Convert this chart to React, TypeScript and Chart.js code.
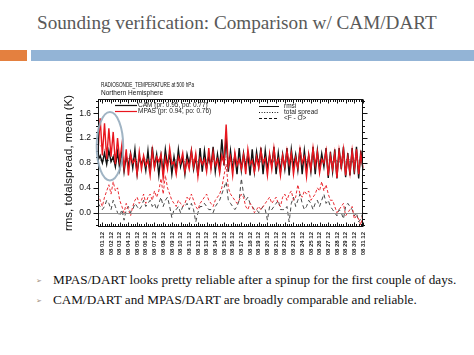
import React, { useEffect, useRef } from 'react';
import { Chart, registerables } from 'chart.js';

Chart.register(...registerables);

// ---------- data ----------
const monthLabel = '08';
const dayLabels = ['01','02','03','04','05','06','07','08','09','10','11','12','13','14','15','16','17','18','19','20','21','22','23','24','25','26','27','28','29','30','31'];
const hourLabels = ['00', '06', '12', '18'];
const labelHour = '12';

const timeLabels: string[] = [];
dayLabels.forEach((d, di) => {
  hourLabels.forEach((h) => {
    if (di === dayLabels.length - 1 && h === '18') return;
    timeLabels.push(`${monthLabel} ${d} ${h}`);
  });
});

const mpasRms = [
  0.98, 1.52, 0.92, 1.44, 0.86, 1.36, 0.9, 1.3, 0.78, 1.2, 0.84, 1.1, 0.72, 1.02, 0.6, 0.94,
  0.8, 0.86, 0.62, 0.98, 0.7, 0.92, 0.76, 0.84, 0.6, 1.0, 0.72, 0.9, 0.82, 0.94, 0.56, 0.88,
  0.7, 1.04, 0.78, 0.82, 0.62, 0.9, 0.8, 0.96, 0.66, 0.84, 0.7, 1.0, 0.74, 0.95, 0.58, 0.88,
  0.78, 0.86, 0.66, 1.04, 0.7, 0.98, 0.76, 0.86, 0.64, 0.92, 0.8, 1.42, 0.74, 0.9, 0.6, 0.97,
  0.76, 0.86, 0.7, 0.93, 0.62, 1.02, 0.78, 0.84, 0.66, 0.9, 0.72, 1.0, 0.8, 0.88, 0.6, 0.95,
  0.7, 1.04, 0.76, 0.86, 0.6, 0.92, 0.74, 1.0, 0.78, 0.96, 0.62, 0.88, 0.72, 1.02, 0.8, 0.9,
  0.58, 0.94, 0.7, 1.04, 0.76, 0.98, 0.64, 0.86, 0.8, 1.0, 0.6, 0.92, 0.7, 0.96, 0.56, 1.0,
  0.74, 1.02, 0.6, 0.9, 0.64, 1.0, 0.7, 1.02, 0.62, 0.94, 0.72,
];

const camRms = [
  0.84, 0.92, 0.8, 0.96, 0.78, 1.0, 0.82, 0.9, 0.74, 0.98, 0.7, 1.0, 0.66, 0.92, 0.74, 0.96,
  0.72, 1.02, 0.62, 0.9, 0.78, 0.88, 0.68, 1.0, 0.64, 1.06, 0.74, 0.94, 0.6, 0.92, 0.66, 1.02,
  0.76, 0.95, 0.62, 0.9, 0.68, 1.02, 0.74, 0.88, 0.62, 0.94, 0.78, 1.0, 0.7, 0.9, 0.6, 1.04,
  0.66, 1.0, 0.72, 0.9, 0.74, 1.06, 0.66, 0.94, 0.7, 1.18, 0.76, 1.2, 0.66, 1.0, 0.7, 0.92,
  0.62, 1.04, 0.68, 0.96, 0.72, 0.94, 0.6, 1.02, 0.66, 0.98, 0.74, 1.05, 0.62, 1.0, 0.7, 0.92,
  0.76, 1.06, 0.62, 0.96, 0.66, 0.94, 0.7, 1.04, 0.6, 1.02, 0.74, 0.94, 0.68, 1.05, 0.62, 1.0,
  0.7, 0.92, 0.66, 1.06, 0.62, 1.0, 0.7, 0.95, 0.74, 1.04, 0.56, 0.98, 0.66, 1.02, 0.55, 1.04,
  0.7, 1.06, 0.57, 0.96, 0.6, 1.04, 0.62, 1.06, 0.55, 1.0, 0.68,
];

const mpasSpread = [
  1.1, 1.08, 1.05, 1.02, 1.0, 0.98, 0.96, 0.94, 0.93, 0.92, 0.9, 0.89, 0.88, 0.87, 0.87, 0.86,
  0.86, 0.87, 0.85, 0.86, 0.85, 0.86, 0.86, 0.85, 0.86, 0.85, 0.84, 0.86, 0.85, 0.86, 0.85, 0.84,
  0.84, 0.85, 0.86, 0.85, 0.85, 0.84, 0.85, 0.86, 0.86, 0.85, 0.84, 0.85, 0.85, 0.86, 0.85, 0.84,
  0.84, 0.85, 0.85, 0.86, 0.85, 0.86, 0.86, 0.87, 0.86, 0.87, 0.88, 0.9, 0.88, 0.87, 0.86, 0.85,
  0.85, 0.84, 0.85, 0.86, 0.86, 0.85, 0.84, 0.85, 0.84, 0.85, 0.86, 0.85, 0.85, 0.86, 0.85, 0.84,
  0.85, 0.84, 0.85, 0.86, 0.86, 0.85, 0.84, 0.85, 0.85, 0.86, 0.86, 0.85, 0.84, 0.85, 0.86, 0.85,
  0.85, 0.84, 0.85, 0.86, 0.86, 0.85, 0.85, 0.84, 0.85, 0.86, 0.85, 0.84, 0.84, 0.85, 0.84, 0.85,
  0.85, 0.84, 0.85, 0.86, 0.85, 0.84, 0.84, 0.85, 0.84, 0.85, 0.84,
];

const camSpread = [
  0.84, 0.84, 0.83, 0.84, 0.83, 0.84, 0.83, 0.83, 0.83, 0.82, 0.83, 0.83, 0.82, 0.83, 0.83, 0.82,
  0.82, 0.83, 0.82, 0.82, 0.83, 0.82, 0.82, 0.83, 0.82, 0.82, 0.83, 0.82, 0.82, 0.83, 0.82, 0.82,
  0.81, 0.82, 0.82, 0.83, 0.82, 0.82, 0.81, 0.82, 0.82, 0.83, 0.82, 0.82, 0.83, 0.82, 0.82, 0.81,
  0.82, 0.82, 0.83, 0.82, 0.82, 0.83, 0.83, 0.84, 0.84, 0.85, 0.86, 0.85, 0.84, 0.83, 0.82, 0.82,
  0.82, 0.83, 0.82, 0.82, 0.82, 0.82, 0.81, 0.82, 0.82, 0.83, 0.82, 0.82, 0.81, 0.82, 0.82, 0.82,
  0.82, 0.82, 0.83, 0.82, 0.82, 0.81, 0.82, 0.82, 0.83, 0.82, 0.82, 0.82, 0.82, 0.83, 0.82, 0.82,
  0.82, 0.82, 0.81, 0.82, 0.82, 0.82, 0.83, 0.82, 0.82, 0.82, 0.82, 0.81, 0.82, 0.82, 0.83, 0.82,
  0.81, 0.82, 0.82, 0.82, 0.82, 0.82, 0.81, 0.82, 0.82, 0.81, 0.82,
];

const mpasBias = [
  0.3, 0.2, 0.1, 0.25, 0.35, 0.45, 0.3, 0.5, 0.35, 0.4, 0.2, 0.1, 0.0, 0.15, 0.05, -0.05,
  0.1, 0.2, 0.25, 0.15, 0.2, 0.3, 0.15, 0.25, 0.3, 0.2, 0.35, 0.25, 0.35, 0.55, 0.3, 0.6,
  0.4, 0.3, 0.2, 0.15, 0.1, 0.2, 0.15, 0.1, 0.15, 0.25, 0.2, 0.3, 0.2, 0.1, 0.05, 0.15,
  0.2, 0.25, 0.3, 0.2, 0.15, 0.1, 0.2, 0.25, 0.3, 0.4, 0.6, 0.78, 0.4, 0.3, 0.25, 0.2,
  0.15, 0.2, 0.3, 0.25, 0.1, 0.05, 0.15, 0.1, 0.0, 0.05, 0.1, 0.05, 0.1, 0.15, 0.2, 0.25,
  0.15, 0.2, 0.25, 0.15, 0.1, 0.25, 0.3, 0.2, 0.3, 0.35, 0.2, 0.25, 0.45, 0.3, 0.25, 0.35,
  0.3, 0.35, 0.2, 0.25, 0.3, 0.4, 0.35, 0.5, 0.35, 0.45, 0.3, 0.2, 0.2, 0.1, 0.0, 0.05,
  0.1, 0.15, -0.05, 0.0, 0.05, 0.1, -0.1, -0.05, -0.1, -0.2, 0.0,
];

const camBias = [
  0.15, 0.1, 0.05, 0.1, 0.2, 0.15, 0.05, 0.2, 0.1, 0.0, -0.05, 0.05, -0.12, 0.05, 0.1, 0.0,
  0.05, 0.15, 0.1, 0.05, 0.1, 0.2, 0.1, 0.15, 0.2, 0.1, 0.15, 0.05, 0.15, 0.25, 0.1, 0.2,
  0.25, 0.1, -0.08, 0.05, 0.05, 0.1, 0.0, 0.1, 0.1, 0.15, 0.05, 0.15, 0.05, -0.15, 0.0, 0.1,
  0.1, 0.15, 0.1, 0.05, 0.05, 0.0, 0.1, 0.15, 0.2, 0.3, 0.4, 0.5, 0.2, 0.15, 0.1, 0.05,
  0.1, 0.2, 0.55, 0.3, 0.2, 0.25, 0.15, 0.1, 0.05, 0.05, 0.0, 0.05, 0.1, 0.05, -0.12, 0.1,
  0.05, 0.1, 0.15, 0.2, 0.05, 0.05, 0.05, 0.1, -0.15, 0.15, 0.25, 0.1, 0.2, 0.3, 0.15, 0.05,
  0.1, 0.2, 0.15, 0.05, 0.15, 0.2, 0.1, 0.2, 0.3, 0.15, 0.2, 0.1, 0.05, 0.0, -0.05, 0.05,
  0.0, -0.1, 0.1, 0.15, 0.1, 0.05, -0.05, 0.0, -0.15, -0.1, 0.0,
];

const yTickValues = [0.0, 0.4, 0.8, 1.2, 1.6];
const yMin = -0.23;
const yMax = 1.83;

const chartTitle = 'RADIOSONDE_TEMPERATURE at 500 hPa';
const chartSubtitle = 'Northern Hemisphere';
const yAxisTitle = 'rms, totalspread, mean (K)';
const modelLegend = [
  { label: 'CAM (pr: 0.95, po: 0.77)', color: '#111111' },
  { label: 'MPAS (pr: 0.94, po: 0.76)', color: '#e8161e' },
];
const styleLegend = [
  { label: 'rmsi', dash: [] as number[] },
  { label: 'total spread', dash: [1, 1.6] },
  { label: '<F - O>', dash: [3, 2] },
];
// highlighted spin-up region (category index range, value range)
const spinupIdx = [-0.6, 11.6];
const spinupVal = [0.52, 1.62];

const slideTitle = 'Sounding verification: Comparison w/ CAM/DART';
const bullets = [
  'MPAS/DART looks pretty reliable after a spinup for the first couple of days.',
  'CAM/DART and MPAS/DART are broadly comparable and reliable.',
];

const RED = '#e8161e';
const BLACK = '#111111';

const decorPlugin = {
  id: 'decor',
  afterDraw(chart: any) {
    const { ctx, chartArea: a, scales } = chart;
    const xs = scales.x;
    const ys = scales.y;
    ctx.save();

    // zero line
    const y0 = Math.round(ys.getPixelForValue(0)) + 0.5;
    ctx.strokeStyle = '#8c8c8c';
    ctx.lineWidth = 1;
    ctx.beginPath();
    ctx.moveTo(a.left, y0);
    ctx.lineTo(a.right + 4, y0);
    ctx.stroke();

    // frame
    ctx.strokeStyle = '#111';
    ctx.lineWidth = 1;
    const L = Math.round(a.left) + 0.5;
    const R = Math.round(a.right) - 0.5;
    const T = Math.round(a.top) + 0.5;
    const B = Math.round(a.bottom) - 0.5;
    ctx.strokeRect(L, T, R - L, B - T);

    // x ticks (inward, top and bottom)
    ctx.beginPath();
    for (let i = 0; i < timeLabels.length; i++) {
      const px = Math.round(xs.getPixelForValue(i)) + 0.5;
      const len = timeLabels[i].endsWith(' ' + labelHour) ? 4 : 2.5;
      ctx.moveTo(px, B);
      ctx.lineTo(px, B - len);
      ctx.moveTo(px, T);
      ctx.lineTo(px, T + len);
    }
    // y ticks (outward, left and right)
    for (let k = -2; k <= 18; k++) {
      const v = k / 10;
      const py = Math.round(ys.getPixelForValue(v)) + 0.5;
      if (py < a.top - 0.5 || py > a.bottom + 0.5) continue;
      const len = k % 4 === 0 ? 5 : 2.5;
      ctx.moveTo(L - len, py);
      ctx.lineTo(L, py);
      ctx.moveTo(R, py);
      ctx.lineTo(R + len, py);
    }
    ctx.stroke();

    // titles
    ctx.fillStyle = '#111';
    ctx.textBaseline = 'middle';
    ctx.textAlign = 'left';
    ctx.save();
    ctx.translate(a.left + 3, a.top - 14);
    ctx.scale(0.72, 1);
    ctx.font = '6.5px "Liberation Sans", Arial, sans-serif';
    ctx.fillText(chartTitle, 0, 0);
    ctx.restore();
    ctx.font = '6.5px "Liberation Sans", Arial, sans-serif';
    ctx.fillText(chartSubtitle, a.left + 3, a.top - 6);

    // model legend (top-left)
    ctx.font = '6.5px "Liberation Sans", Arial, sans-serif';
    modelLegend.forEach((m, i) => {
      const ly = Math.round(a.top + 6 + i * 5.5) + 0.5;
      ctx.strokeStyle = m.color;
      ctx.lineWidth = 1.2;
      ctx.setLineDash([]);
      ctx.beginPath();
      ctx.moveTo(a.left + 17, ly);
      ctx.lineTo(a.left + 39, ly);
      ctx.stroke();
      ctx.fillStyle = '#222';
      ctx.fillText(m.label, a.left + 40, ly);
    });
    // style legend (top-right)
    styleLegend.forEach((s, i) => {
      const ly = Math.round(a.top + 6.5 + i * 6) + 0.5;
      ctx.strokeStyle = '#111';
      ctx.lineWidth = 1;
      ctx.setLineDash(s.dash);
      ctx.beginPath();
      ctx.moveTo(a.left + 161, ly);
      ctx.lineTo(a.left + 181, ly);
      ctx.stroke();
      ctx.setLineDash([]);
      ctx.fillStyle = '#222';
      ctx.fillText(s.label, a.left + 186, ly);
    });

    // spin-up ellipse
    const ex0 = xs.getPixelForValue(spinupIdx[0]);
    const ex1 = xs.getPixelForValue(spinupIdx[1]);
    const ey0 = ys.getPixelForValue(spinupVal[1]);
    const ey1 = ys.getPixelForValue(spinupVal[0]);
    ctx.strokeStyle = 'rgba(150,172,190,0.9)';
    ctx.lineWidth = 2;
    ctx.beginPath();
    ctx.ellipse((ex0 + ex1) / 2, (ey0 + ey1) / 2, (ex1 - ex0) / 2, (ey1 - ey0) / 2, 0, 0, Math.PI * 2);
    ctx.stroke();

    ctx.restore();
  },
};

function SoundingChart() {
  const ref = useRef<HTMLCanvasElement | null>(null);
  useEffect(() => {
    if (!ref.current) return;
    Chart.defaults.font.family = '"Liberation Sans", Arial, sans-serif';
    const line = (data: number[], color: string, width: number, dash: number[]) => ({
      data,
      borderColor: color,
      backgroundColor: color,
      borderWidth: width,
      borderDash: dash,
      pointRadius: 0,
      tension: 0,
      fill: false,
    });
    const chart = new Chart(ref.current, {
      type: 'line',
      data: {
        labels: timeLabels,
        datasets: [
          { label: 'MPAS rmsi', ...line(mpasRms, RED, 1.4, []) },
          { label: 'CAM rmsi', ...line(camRms, BLACK, 1.4, []) },
          { label: 'MPAS total spread', ...line(mpasSpread, RED, 0.8, [1, 1.6]) },
          { label: 'CAM total spread', ...line(camSpread, BLACK, 0.8, [1, 1.6]) },
          { label: 'MPAS <F - O>', ...line(mpasBias, RED, 0.9, [3, 2]) },
          { label: 'CAM <F - O>', ...line(camBias, '#333333', 0.9, [4, 3]) },
        ],
      },
      options: {
        animation: false,
        responsive: false,
        devicePixelRatio: 1,
        events: [],
        layout: { padding: { left: 58, right: 111, top: 29, bottom: 7 } },
        plugins: { legend: { display: false }, tooltip: { enabled: false }, title: { display: false } },
        scales: {
          x: {
            type: 'category',
            grid: { display: false, drawTicks: false },
            border: { display: false },
            ticks: {
              autoSkip: false,
              minRotation: 90,
              maxRotation: 90,
              padding: 5,
              color: '#222',
              font: { size: 6, weight: 'bold' },
              callback: (_v: any, i: number) =>
                timeLabels[i] && timeLabels[i].endsWith(' ' + labelHour) ? timeLabels[i] : '',
            },
            afterFit: (s: any) => {
              s.height = 36;
            },
          },
          y: {
            min: yMin,
            max: yMax,
            grid: { display: false, drawTicks: false },
            border: { display: false },
            afterBuildTicks: (s: any) => {
              s.ticks = yTickValues.map((v) => ({ value: v }));
            },
            ticks: {
              padding: 7,
              color: '#111',
              font: { size: 8.5 },
              callback: (v: any) => Number(v).toFixed(1),
            },
            title: {
              display: true,
              text: yAxisTitle,
              color: '#111',
              font: { size: 11.5 },
              padding: { top: 4, bottom: 0 },
            },
            afterFit: (s: any) => {
              s.width = 40;
            },
          },
        },
      },
      plugins: [decorPlugin],
    } as any);
    return () => chart.destroy();
  }, []);
  return <canvas ref={ref} width={474} height={200} style={{ width: 474, height: 200, display: 'block' }} />;
}

export default function App() {
  return (
    <div style={{ position: 'absolute', left: 0, top: 0, width: 474, height: 355, background: '#fff', overflow: 'hidden' }}>
      <div
        style={{
          position: 'absolute', left: 37, top: 13, fontFamily: '"Liberation Serif", "Times New Roman", serif',
          fontSize: 19.2, lineHeight: '19px', color: '#595959', whiteSpace: 'nowrap',
        }}
      >
        {slideTitle}
      </div>
      <div style={{ position: 'absolute', left: 0, top: 50, width: 27, height: 11, background: '#e4803f' }} />
      <div style={{ position: 'absolute', left: 31, top: 50, width: 443, height: 11, background: '#93b4d6' }} />
      <div style={{ position: 'absolute', left: 0, top: 70, width: 474, height: 200 }}>
        <SoundingChart />
      </div>
      {bullets.map((b, i) => (
        <div key={i} style={{ position: 'absolute', left: 0, top: 272 + i * 20, width: 474, height: 20 }}>
          <span
            style={{
              position: 'absolute', left: 36, top: 5, fontFamily: '"DejaVu Sans", sans-serif', fontSize: 7,
              lineHeight: '8px', color: '#a08a78',
            }}
          >
            ➢
          </span>
          <span
            style={{
              position: 'absolute', left: 53, top: 1, fontFamily: '"Liberation Serif", "Times New Roman", serif',
              fontSize: 13.2, lineHeight: '13px', color: '#111', whiteSpace: 'nowrap',
            }}
          >
            {b}
          </span>
        </div>
      ))}
    </div>
  );
}
